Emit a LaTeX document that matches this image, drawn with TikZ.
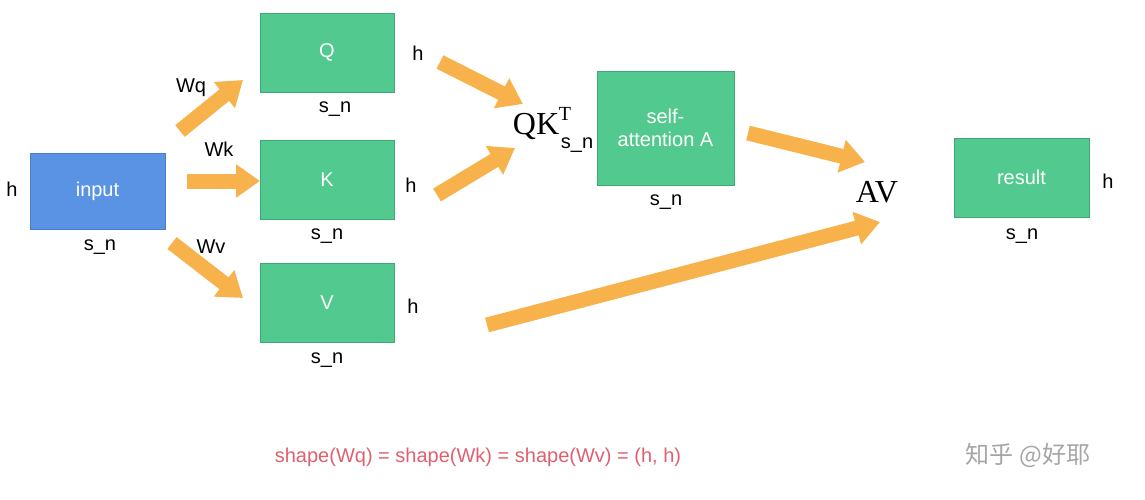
\documentclass[tikz,border=0pt]{standalone}
\usepackage{fontspec}
\setmainfont{Liberation Sans}
\newfontfamily\serifx{Liberation Serif}
\newfontfamily\cjk{Noto Sans CJK SC}
\usetikzlibrary{arrows.meta}
\definecolor{gbox}{HTML}{52C98E}
\definecolor{gedge}{HTML}{3FA874}
\definecolor{bbox}{HTML}{5B93E4}
\definecolor{bedge}{HTML}{4A7CC8}
\definecolor{arr}{HTML}{F8B24C}
\definecolor{redt}{HTML}{E06070}
\begin{document}
\begin{tikzpicture}[x=1pt,y=-1pt,
  box/.style={draw=gedge,fill=gbox,text=white,font=\fontsize{20}{23}\selectfont,inner sep=0pt,align=center},
  lbl/.style={font=\fontsize{20}{23}\selectfont,inner sep=0pt},
  barrow/.style={draw=arr,line width=15pt,-{Triangle[width=32pt,length=24pt]}}]
\useasboundingbox (0,0) rectangle (1145,500);
\node[box,draw=bedge,fill=bbox,minimum width=135pt,minimum height=76pt] (in) at (97.5,191) {input};
\node[box,minimum width=134pt,minimum height=79pt] (q) at (327,52.5) {Q};
\node[box,minimum width=134pt,minimum height=79pt] (k) at (327,179.5) {K};
\node[box,minimum width=134pt,minimum height=79pt] (v) at (327,302.5) {V};
\node[box,minimum width=137pt,minimum height=114pt] (sa) at (665.5,128) {self-\\attention A};
\node[box,minimum width=135pt,minimum height=79pt] (res) at (1021.5,177.5) {result};
\node[lbl] (h1) at (12,189) {h};
\node[lbl] (s1) at (100,247) {s\_n};
\node[lbl] (wq) at (191,88) {Wq};
\node[lbl] (wk) at (219,149) {Wk};
\node[lbl] (wv) at (211,247) {Wv};
\node[lbl] (hq) at (418,53) {h};
\node[lbl] (sq) at (335,109) {s\_n};
\node[lbl] (hk) at (411,185) {h};
\node[lbl] (sk) at (327,236) {s\_n};
\node[lbl] (hv) at (413,306) {h};
\node[lbl] (sv) at (327,360) {s\_n};
\node[inner sep=0pt,font=\serifx\fontsize{32}{36}\selectfont] (qk) at (536,127) {QK};
\node[inner sep=0pt,font=\serifx\fontsize{20}{23}\selectfont] (tt) at (565,114) {T};
\node[lbl] (sqk) at (577,145) {s\_n};
\node[lbl] (ssa) at (666,202) {s\_n};
\node[inner sep=0pt,font=\serifx\fontsize{32}{36}\selectfont] (av) at (877,192) {AV};
\node[lbl] (hr) at (1108,181) {h};
\node[lbl] (sr) at (1022,236) {s\_n};
\node[lbl,text=redt] (note) at (478,457) {shape(Wq) = shape(Wk) = shape(Wv) = (h, h)};
\node[inner sep=0pt,text=gray!70,font=\cjk\fontsize{24}{28}\selectfont] (wm) at (1028,455) {知乎 @好耶};
\coordinate (a1) at (180,131); \coordinate (b1) at (243,80);
\coordinate (a2) at (187,181); \coordinate (b2) at (260,181);
\coordinate (a3) at (172,243); \coordinate (b3) at (243,298);
\coordinate (a4) at (440,62);  \coordinate (b4) at (523,104);
\coordinate (a5) at (437,195); \coordinate (b5) at (515,148);
\coordinate (a6) at (748,133); \coordinate (b6) at (865,162);
\coordinate (a7) at (487,325); \coordinate (b7) at (880,222);
\foreach \i in {1,...,7} \draw[barrow] (a\i) -- (b\i);
\end{tikzpicture}
\end{document}
